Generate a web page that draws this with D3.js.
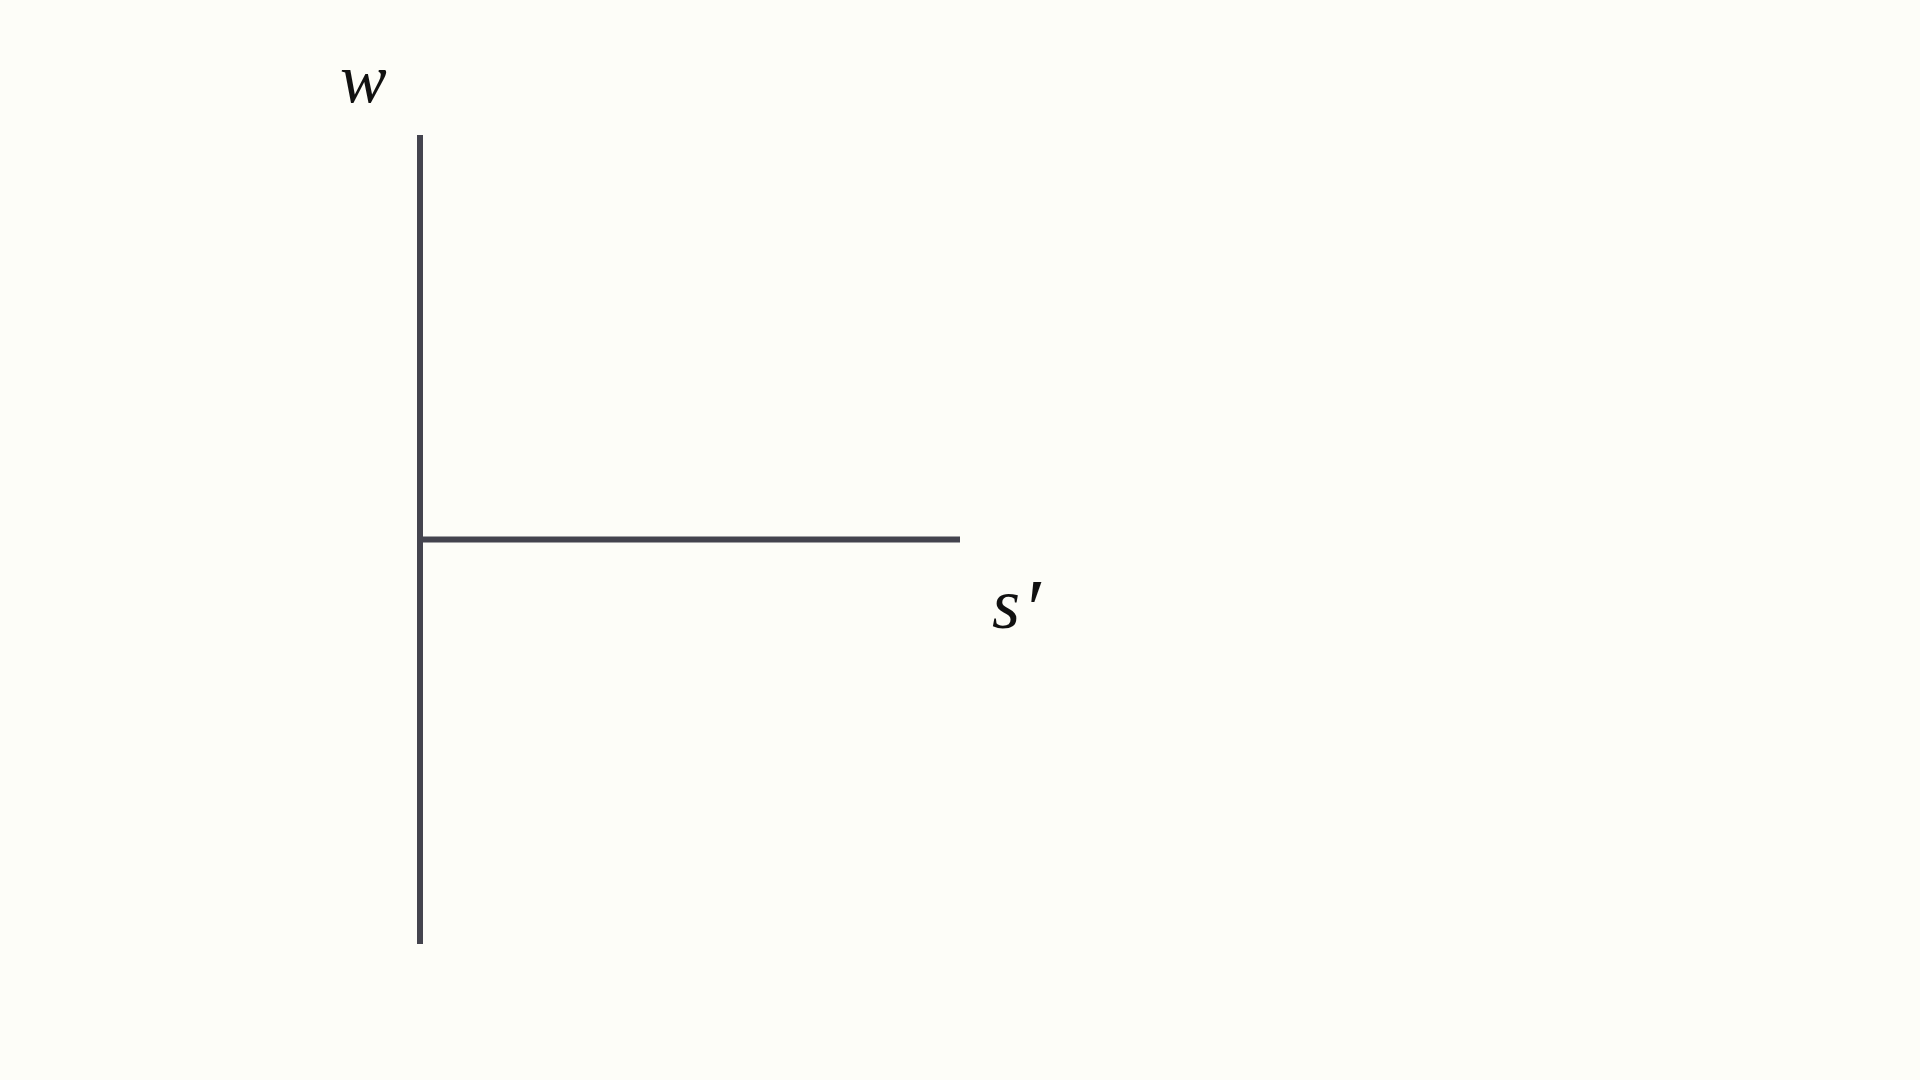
<!DOCTYPE html>
<html>
<head>
<meta charset="utf-8">
<script src="https://cdn.jsdelivr.net/npm/d3@7"></script>
<style>
  html, body { margin: 0; padding: 0; background: #fdfdf8; }
  svg { display: block; }
</style>
</head>
<body>
<svg id="chart" width="1920" height="1080"></svg>
<script>
// axis extents in data units
var sRange = [0, 1];
var wRange = [-1, 1];
var axisLabels = ["w", "s"];

var svg = d3.select("#chart");

var x = d3.scaleLinear().domain(sRange).range([420, 960]);
var y = d3.scaleLinear().domain(wRange).range([944, 135]);

var line = d3.line()
    .x(function(d){ return x(d[0]); })
    .y(function(d){ return y(d[1]); });

var axisColor = "#44444e";

// vertical w axis
svg.append("path")
    .attr("d", line([[0, wRange[0]], [0, wRange[1]]]))
    .attr("stroke", axisColor)
    .attr("stroke-width", 6)
    .attr("fill", "none");

// horizontal s' axis
svg.append("path")
    .attr("d", line([[sRange[0], 0], [sRange[1], 0]]))
    .attr("stroke", axisColor)
    .attr("stroke-width", 6)
    .attr("fill", "none");

var labelFont = "'Liberation Serif', 'DejaVu Serif', serif";

svg.append("text")
    .attr("x", 340)
    .attr("y", 102)
    .attr("font-family", labelFont)
    .attr("font-style", "italic")
    .attr("font-size", 70)
    .attr("fill", "#111")
    .text(axisLabels[0]);

var sLabel = svg.append("text")
    .attr("x", 992)
    .attr("y", 628)
    .attr("font-family", labelFont)
    .attr("font-style", "italic")
    .attr("font-size", 72)
    .attr("fill", "#111");
sLabel.append("tspan").text(axisLabels[1]);
sLabel.append("tspan")
    .attr("dx", 2)
    .attr("dy", 10)
    .attr("font-size", 84)
    .attr("font-weight", 300)
    .text("\u2032");
</script>
</body>
</html>
